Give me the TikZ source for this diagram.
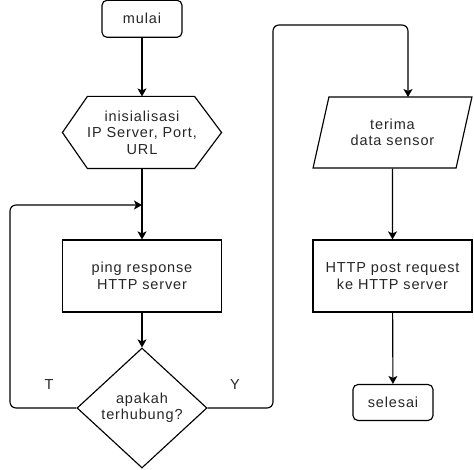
\documentclass[tikz,border=0pt]{standalone}
\usepackage{fontspec}
\setmainfont{Liberation Sans}[LetterSpace=6]
\usetikzlibrary{shapes.geometric,arrows.meta,calc}
\begin{document}
\begin{tikzpicture}[x=1pt,y=-1pt, line width=1.15pt,
  every node/.style={font=\fontsize{14.5}{16.5}\selectfont, align=center, inner sep=0pt, text=black!85},
  term/.style={draw, rounded corners=5pt, minimum width=80pt, minimum height=36pt},
  proc/.style={draw, minimum width=159pt, minimum height=72pt},
  arr/.style={-{Stealth[length=8pt,width=9pt,inset=2pt]}},
  link/.style={rounded corners=6pt}]
\useasboundingbox (0,0) rectangle (474,470);
\node[term, minimum height=37pt] (mulai) at (142,18.8) {mulai};
\node[minimum width=158pt, minimum height=71pt] (init) at (142,132.5) {inisialisasi\\IP Server, Port,\\URL};
\draw (init.west) -- ($(init.north west)+(25,0)$) -- ($(init.north east)+(-27,0)$) -- (init.east)
  -- ($(init.south east)+(-27,0)$) -- ($(init.south west)+(25,0)$) -- cycle;
\node[proc] (ping) at (142,276) {ping response\\HTTP server};
\node[draw, diamond, minimum width=130pt, minimum height=120pt] (dec) at (142,408) {apakah\\terhubung?};
\node[draw, trapezium, trapezium left angle=69, trapezium right angle=111, trapezium stretches=true,
  minimum width=159pt, minimum height=71pt] (terima) at (392.5,132.5) {terima\\data sensor};
\node[proc] (post) at (392.5,276) {HTTP post request\\ke HTTP server};
\node[term] (selesai) at (393,402.5) {selesai};
\node (T) at (49,385) {T};
\node (Y) at (235,385) {Y};
\coordinate (j) at (142,205);
\coordinate (loopL) at (10,205);
\coordinate (loopR) at (273,25);
\coordinate (tin) at (408,97);
\draw[arr] (mulai) -- (init);
\draw[arr] (init.south) -- (ping.north);
\draw[arr] (ping) -- (dec);
\draw[arr,link] (dec.west) -| (loopL) -- (j);
\draw[arr,link] (dec.east) -| (loopR) -| (tin);
\draw[arr] (terima) -- (post);
\draw[arr] (post) -- (selesai);
\end{tikzpicture}
\end{document}
